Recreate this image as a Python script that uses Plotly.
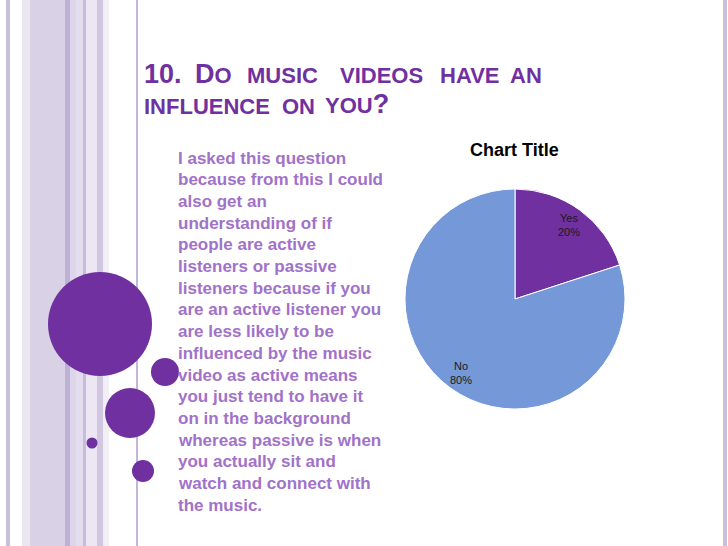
import math
import plotly.graph_objects as go

W, H = 728, 546

# ---- data ----
categories = ["Yes", "No"]
values = [20, 80]
slice_colors = ["#7030a0", "#7498d8"]

chart_title = "Chart Title"
body_lines = [
    "I asked this question",
    "because from this I could",
    "also get an",
    "understanding of if",
    "people are active",
    "listeners or passive",
    "listeners because if you",
    "are an active listener you",
    "are less likely to be",
    "influenced by the music",
    "video as active means",
    "you just tend to have it",
    "on in the background",
    "whereas passive is when",
    "you actually sit and",
    "watch and connect with",
    "the music.",
]


def px(x):
    return x / W


def py(y):
    return 1 - y / H


FONT = "Liberation Sans, Arial, sans-serif"
PURPLE = "#7030a0"
BODY = "#a172c9"

# pie box in pixels
PX0, PX1, PY0, PY1 = 405, 625, 189, 409
PCX, PCY, PR = (PX0 + PX1) / 2, (PY0 + PY1) / 2, (PX1 - PX0) / 2

fig = go.Figure()

fig.add_trace(go.Pie(
    labels=categories,
    values=values,
    marker=dict(colors=slice_colors, line=dict(color="white", width=1)),
    sort=False,
    direction="clockwise",
    rotation=0,
    textinfo="none",
    domain=dict(x=[px(PX0), px(PX1)], y=[py(PY1), py(PY0)]),
    showlegend=False,
    hoverinfo="label+percent",
))

shapes = []
stripes = [
    (6, 10, "#cbc0dc"),
    (22, 30, "#ebe7f1"),
    (30, 65, "#d9d1e6"),
    (65, 70, "#bfb1d5"),
    (70, 76, "#ddd5e9"),
    (76, 83, "#e3ddef"),
    (83, 86, "#c8bcdc"),
    (86, 97, "#ece7f3"),
    (97, 103, "#d1c7e1"),
    (103, 109, "#f1eef6"),
    (136, 138, "#c3b6d8"),
    (723, 727, "#c9bedc"),
]
for x0, x1, c in stripes:
    shapes.append(dict(type="rect", xref="paper", yref="paper",
                       x0=px(x0), x1=px(x1), y0=0, y1=1,
                       fillcolor=c, line=dict(width=0), layer="below"))

circles = [(100, 324, 52), (165, 372, 14), (130, 413, 25), (92, 443, 5.5), (143, 471, 11)]
for cx, cy, r in circles:
    shapes.append(dict(type="circle", xref="paper", yref="paper",
                       x0=px(cx - r), x1=px(cx + r), y0=py(cy + r), y1=py(cy - r),
                       fillcolor=PURPLE, line=dict(width=0), layer="above"))

annotations = []


def add_text(text, x, baseline, size, color, bold=True, anchor="left"):
    annotations.append(dict(
        text=f"<b>{text}</b>" if bold else text,
        xref="paper", yref="paper",
        x=px(x), y=py(baseline + 0.212 * size),
        xanchor=anchor, yanchor="bottom",
        showarrow=False, borderpad=0, borderwidth=0,
        font=dict(family=FONT, size=size, color=color),
    ))


BIG, SMALL = 27, 22
# title line 1 (small caps)
add_text("10.", 144, 83, BIG, PURPLE)
add_text("D<span style='font-size:%dpx'>O</span>" % SMALL, 195, 83, BIG, PURPLE)
for word, x in [("MUSIC", 247), ("VIDEOS", 340), ("HAVE", 440), ("AN", 510)]:
    add_text(word, x, 83, SMALL, PURPLE)
# title line 2
for word, x in [("INFLUENCE", 144), ("ON", 282)]:
    add_text(word, x, 114, SMALL, PURPLE)
add_text("YOU<span style='font-size:%dpx'>?</span>" % BIG, 325, 114, SMALL, PURPLE)

# body text
for i, line in enumerate(body_lines):
    add_text(line, 178, 164 + i * 21.69, 17, BODY)

# chart title
add_text(chart_title, 514, 156.5, 18, "#000000", anchor="center")

# pie data labels: placed at each slice's mid-angle (computed from values)
total = sum(values)
cum = 0
for lab, v in zip(categories, values):
    mid = (cum + v / 2) / total * 2 * math.pi
    cum += v
    lx = PCX + 0.83 * PR * math.sin(mid)
    ly = PCY - 0.83 * PR * math.cos(mid)
    annotations.append(dict(
        text=f"{lab}<br>{round(v / total * 100)}%",
        xref="paper", yref="paper", x=px(lx), y=py(ly),
        xanchor="center", yanchor="middle", showarrow=False,
        borderpad=0, borderwidth=0,
        font=dict(family=FONT, size=11, color="#1a1a1a"),
    ))

fig.update_layout(
    width=W, height=H,
    margin=dict(l=0, r=0, t=0, b=0),
    paper_bgcolor="white",
    plot_bgcolor="white",
    shapes=shapes,
    annotations=annotations,
    showlegend=False,
)

fig.write_html("out.html",
               config={"displayModeBar": False},
               post_script="document.body.style.margin='0';document.body.style.overflow='hidden';")
